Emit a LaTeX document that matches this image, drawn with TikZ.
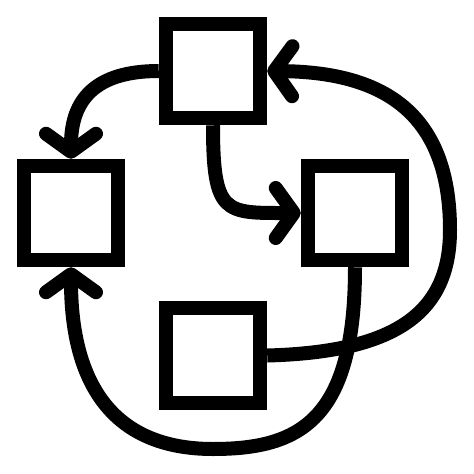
\documentclass[tikz,border=0pt]{standalone}
\usetikzlibrary{arrows.meta}
\begin{document}
\begin{tikzpicture}[x=1pt,y=-1pt,
  box/.style={draw,line width=14pt,minimum size=94.5pt,inner sep=0pt,fill=white},
  conn/.style={line width=14pt,-{Straight Barb[length=18pt,width=50pt,round]}},
  plain/.style={line width=14pt}]
\useasboundingbox (0,0) rectangle (474,474);
\node[box] (T) at (213,71) {};
\node[box] (L) at (71,213) {};
\node[box] (R) at (355,213) {};
\node[box] (B) at (213,355.5) {};
\coordinate (rx) at (450,230);
\coordinate (bx) at (213,449);
\draw[conn] (T.west) .. controls (95,71) and (71,100) .. (L.north);
\draw[conn] (T.south) .. controls (213,215) and (225,213) .. (R.west);
\draw[conn] (B.east) .. controls (400,352) and (450,310) .. (rx) .. controls (450,110) and (380,72) .. (T.east);
\draw[conn] (R.south) .. controls (355,420) and (300,449) .. (bx) .. controls (110,449) and (71,380) .. (L.south);
\end{tikzpicture}
\end{document}
